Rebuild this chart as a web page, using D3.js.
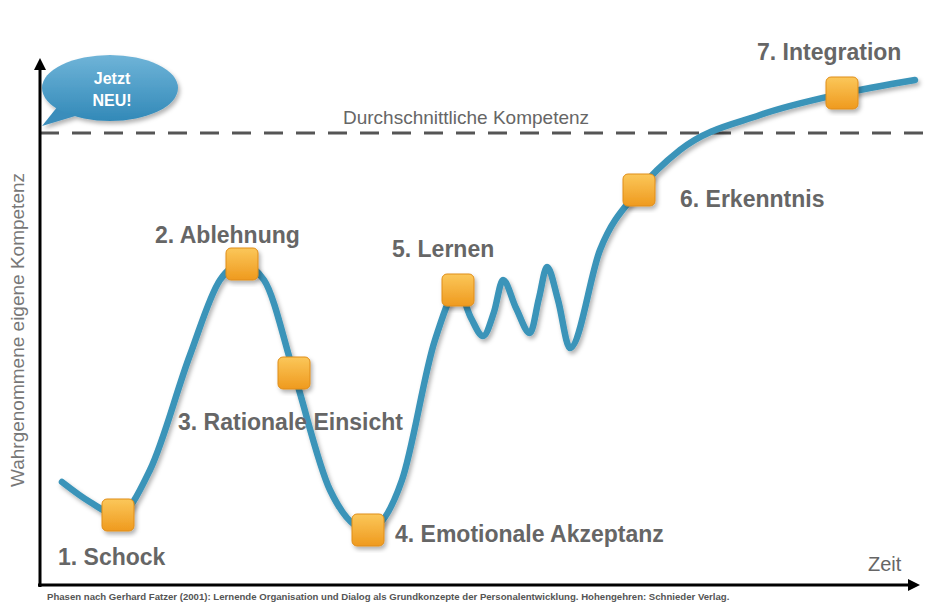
<!DOCTYPE html>
<html><head><meta charset="utf-8">
<script src="https://cdn.jsdelivr.net/npm/d3@7"></script>
<style>body{margin:0;background:#fff}svg{display:block}</style>
</head><body><div id="chart"></div>
<script>
// curve trace, x = time, y = perceived competence (arbitrary units)
const curveX = [22, 50, 78, 110, 150, 180, 202, 224, 254, 290, 328, 362, 395, 418, 431, 443, 454, 463, 476, 490, 499, 507, 518, 530, 560, 599, 640, 720, 800, 875];
const curveY = [98, 78, 65, 110, 225, 300, 316, 300, 207, 90, 50, 100, 240, 290, 262, 244, 268, 300, 272, 247, 282, 313, 280, 232, 330, 390, 430, 465, 486, 500];
const phaseX = [78, 202, 254, 328, 418, 599, 802];
const phaseY = [65, 316, 207, 50, 290, 390, 487];
const phaseLabels = ["1. Schock", "2. Ablehnung", "3. Rationale Einsicht", "4. Emotionale Akzeptanz", "5. Lernen", "6. Erkenntnis", "7. Integration"];
const labelX = [18, 115, 138, 355, 352, 640, 717];
const labelY = [15, 337, 150, 38, 323, 373, 520];
const averageLevel = 447;

const W = 940, H = 613;
const svg = d3.select("#chart").append("svg").attr("width", W).attr("height", H)
    .style("font-family", "'Liberation Sans', Arial, sans-serif");
const x = d3.scaleLinear().domain([0, 880]).range([40, 920]);
const y = d3.scaleLinear().domain([0, 520]).range([580, 60]);

const defs = svg.append("defs");
const og = defs.append("linearGradient").attr("id", "og").attr("x1", 0).attr("y1", 0).attr("x2", 0).attr("y2", 1);
og.append("stop").attr("offset", 0).attr("stop-color", "#fbc75a");
og.append("stop").attr("offset", 1).attr("stop-color", "#ef9a1e");
const bg = defs.append("linearGradient").attr("id", "bg").attr("x1", 0).attr("y1", 0).attr("x2", 0).attr("y2", 1);
bg.append("stop").attr("offset", 0).attr("stop-color", "#6fb4d8");
bg.append("stop").attr("offset", 1).attr("stop-color", "#3289b8");
const sh = defs.append("filter").attr("id", "sh").attr("x", "-20%").attr("y", "-20%").attr("width", "140%").attr("height", "140%");
sh.append("feDropShadow").attr("dx", 2).attr("dy", 3).attr("stdDeviation", 2).attr("flood-color", "#000").attr("flood-opacity", 0.3);

// average line
svg.append("line").attr("x1", 40).attr("x2", 932).attr("y1", y(averageLevel)).attr("y2", y(averageLevel))
    .attr("stroke", "#555").attr("stroke-width", 3).attr("stroke-dasharray", "19 13");
svg.append("text").attr("x", 343).attr("y", y(averageLevel) - 9).attr("font-size", 19).attr("fill", "#666")
    .text("Durchschnittliche Kompetenz");

// axes
svg.append("line").attr("x1", 40).attr("x2", 40).attr("y1", 587).attr("y2", 66).attr("stroke", "#000").attr("stroke-width", 3);
svg.append("path").attr("d", "M34,70 L40,58 L46,70 Z").attr("fill", "#000");
svg.append("line").attr("x1", 38).attr("x2", 912).attr("y1", 585).attr("y2", 585).attr("stroke", "#000").attr("stroke-width", 3);
svg.append("path").attr("d", "M908,579 L920,585 L908,591 Z").attr("fill", "#000");
svg.append("text").attr("x", 868).attr("y", 571).attr("font-size", 20).attr("fill", "#666").text("Zeit");
svg.append("text").attr("transform", "translate(24,330) rotate(-90)").attr("text-anchor", "middle")
    .attr("font-size", 19).attr("fill", "#777").text("Wahrgenommene eigene Kompetenz");
svg.append("text").attr("x", 47).attr("y", 600).attr("font-size", 9.6).attr("font-weight", "bold").attr("fill", "#555")
    .text("Phasen nach Gerhard Fatzer (2001): Lernende Organisation und Dialog als Grundkonzepte der Personalentwicklung. Hohengehren: Schnieder Verlag.");

// bubble
const bub = svg.append("g").attr("filter", "url(#sh)");
bub.append("path").attr("d", "M58,106 L42,126 L82,114 Z").attr("fill", "#3a8dbb");
bub.append("ellipse").attr("cx", 110).attr("cy", 88).attr("rx", 68).attr("ry", 33).attr("fill", "url(#bg)");
svg.append("text").attr("x", 112).attr("y", 84).attr("text-anchor", "middle").attr("font-size", 16).attr("font-weight", "bold").attr("fill", "#fff").text("Jetzt");
svg.append("text").attr("x", 112).attr("y", 106).attr("text-anchor", "middle").attr("font-size", 16).attr("font-weight", "bold").attr("fill", "#fff").text("NEU!");

// curve
const line = d3.line().x(d => x(d[0])).y(d => y(d[1])).curve(d3.curveMonotoneX);
svg.append("path").datum(d3.zip(curveX, curveY)).attr("d", line)
    .attr("fill", "none").attr("stroke", "#3a94b9").attr("stroke-width", 6.5).attr("stroke-linecap", "round")
    .attr("filter", "url(#sh)");

// phase markers
svg.selectAll("rect.m").data(d3.range(phaseX.length)).join("rect").attr("class", "m")
    .attr("x", i => x(phaseX[i]) - 16).attr("y", i => y(phaseY[i]) - 16)
    .attr("width", 32).attr("height", 32).attr("rx", 5)
    .attr("fill", "url(#og)").attr("stroke", "#e08d18").attr("stroke-width", 1).attr("filter", "url(#sh)");

svg.selectAll("text.l").data(phaseLabels).join("text").attr("class", "l")
    .attr("x", (d, i) => x(labelX[i])).attr("y", (d, i) => y(labelY[i]))
    .attr("font-size", 23).attr("font-weight", "bold").attr("fill", "#666").text(d => d);
</script></body></html>
